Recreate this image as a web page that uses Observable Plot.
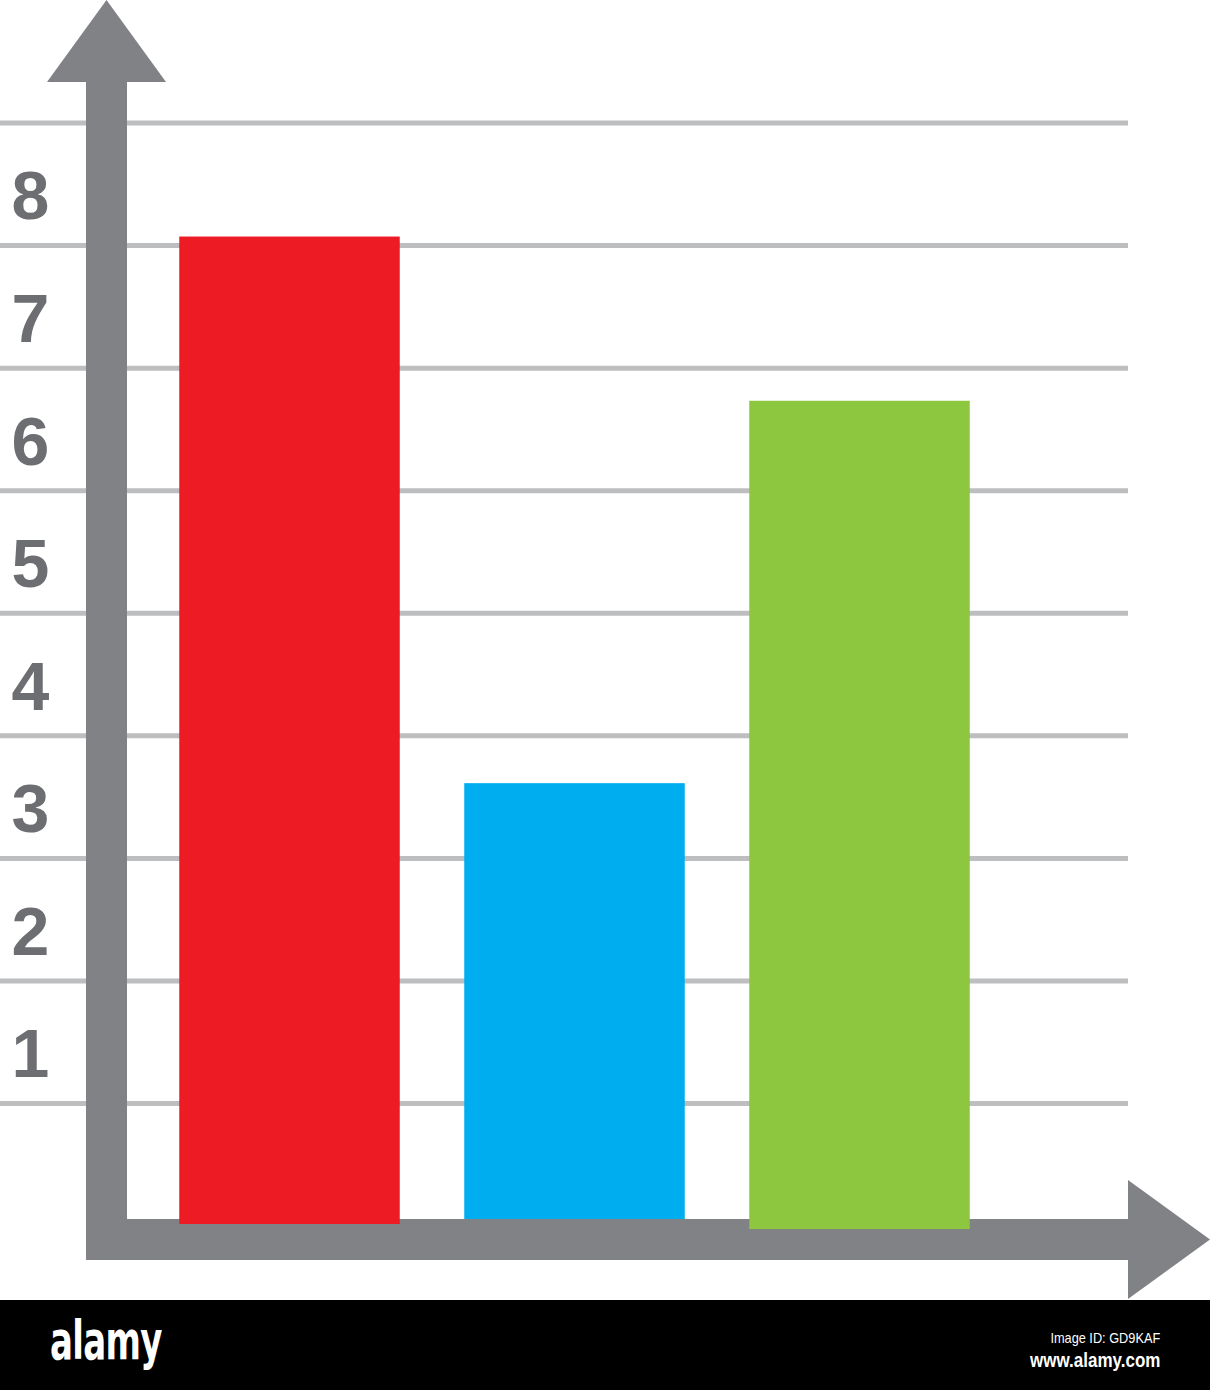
<!DOCTYPE html>
<html><head><meta charset="utf-8">
<script src="https://cdn.jsdelivr.net/npm/d3@7"></script>
<script src="https://cdn.jsdelivr.net/npm/@observablehq/plot@0.6"></script>
<style>
html,body{margin:0;padding:0;background:#fff;}
body{width:1210px;overflow:hidden;}
#chart svg{display:block;}
#footer{height:90px;background:#000;position:relative;color:#fff;overflow:hidden;}
#footer .logo{position:absolute;left:50px;top:14px;font-family:"Liberation Sans Narrow","DejaVu Sans Condensed","Liberation Sans",sans-serif;font-weight:bold;font-size:54px;line-height:1;letter-spacing:-1px;transform:scaleX(0.7);transform-origin:left top;}
#footer .id{position:absolute;right:50px;top:30px;font-family:"Liberation Sans",sans-serif;font-size:15px;line-height:1;transform:scaleX(0.85);transform-origin:right top;}
#footer .www{position:absolute;right:50px;top:50px;font-family:"Liberation Sans",sans-serif;font-weight:bold;font-size:20px;line-height:1;transform:scaleX(0.85);transform-origin:right top;}
</style></head><body>
<div id="chart"></div>
<div id="footer"><div class="logo">alamy</div><div class="id">Image ID: GD9KAF</div><div class="www">www.alamy.com</div></div>
<script>
// ---- data ----
const categories = ["A", "B", "C"];
const values = [8.07, 3.61, 6.73];
const baseValues = [0.013, 0.054, -0.028];
const gridValues = [1, 2, 3, 4, 5, 6, 7, 8, 9];
const tickLabels = [1, 2, 3, 4, 5, 6, 7, 8];
const barColors = ["#ed1c24", "#00aeef", "#8dc63f"];

const bars = categories.map((c, i) => ({category: c, value: values[i], base: baseValues[i]}));

const AXIS = "#808285";

// decorative arrow axes, drawn between gridlines and bars
function axisMark(index, scales, vals, dims) {
  const y = scales.y;
  const g = d3.create("svg:g").attr("fill", AXIS);
  const y0 = y(0);
  const apex = y(10);
  const shaftL = 86, shaftR = 127, shaftC = (shaftL + shaftR) / 2;
  const hTop = y0 - 6.6, hBot = y0 + 34.4, hC = (hTop + hBot) / 2;
  const headBase = 82;
  const rHeadX = dims.width - dims.marginRight;
  g.append("rect").attr("x", shaftL).attr("y", headBase - 1).attr("width", shaftR - shaftL).attr("height", hBot - headBase + 1);
  g.append("path").attr("d", `M47,${headBase} L${shaftC},${apex} L166,${headBase} Z`);
  g.append("rect").attr("x", shaftL).attr("y", hTop).attr("width", rHeadX + 1 - shaftL).attr("height", hBot - hTop);
  g.append("path").attr("d", `M${rHeadX},${hC - 59.5} L${dims.width},${hC} L${rHeadX},${hC + 59.5} Z`);
  return g.node();
}

const plot = Plot.plot({
  width: 1210,
  height: 1300,
  marginLeft: 0,
  marginRight: 82,
  marginTop: 0,
  marginBottom: 0,
  style: {background: "#fff"},
  x: {domain: categories, range: [147, 1002], paddingInner: 0.2263, paddingOuter: 0.11315, round: false, axis: null},
  y: {domain: [0, 10], range: [1225.6, 0], axis: null},
  color: {domain: categories, range: barColors},
  marks: [
    Plot.ruleY(gridValues, {y: d => d, stroke: "#bdbebf", strokeWidth: 5}),
    Plot.text(tickLabels, {
      y: d => d, text: d => String(d), frameAnchor: "left", dx: 30, dy: -48,
      fontSize: 68, fontWeight: "bold", fill: "#6d6e71", textAnchor: "middle",
      fontFamily: "Liberation Sans, Arial, sans-serif"
    }),
    axisMark,
    Plot.barY(bars, {x: "category", y1: "base", y2: "value", fill: "category"})
  ]
});
document.getElementById("chart").appendChild(plot);
</script>
</body></html>
